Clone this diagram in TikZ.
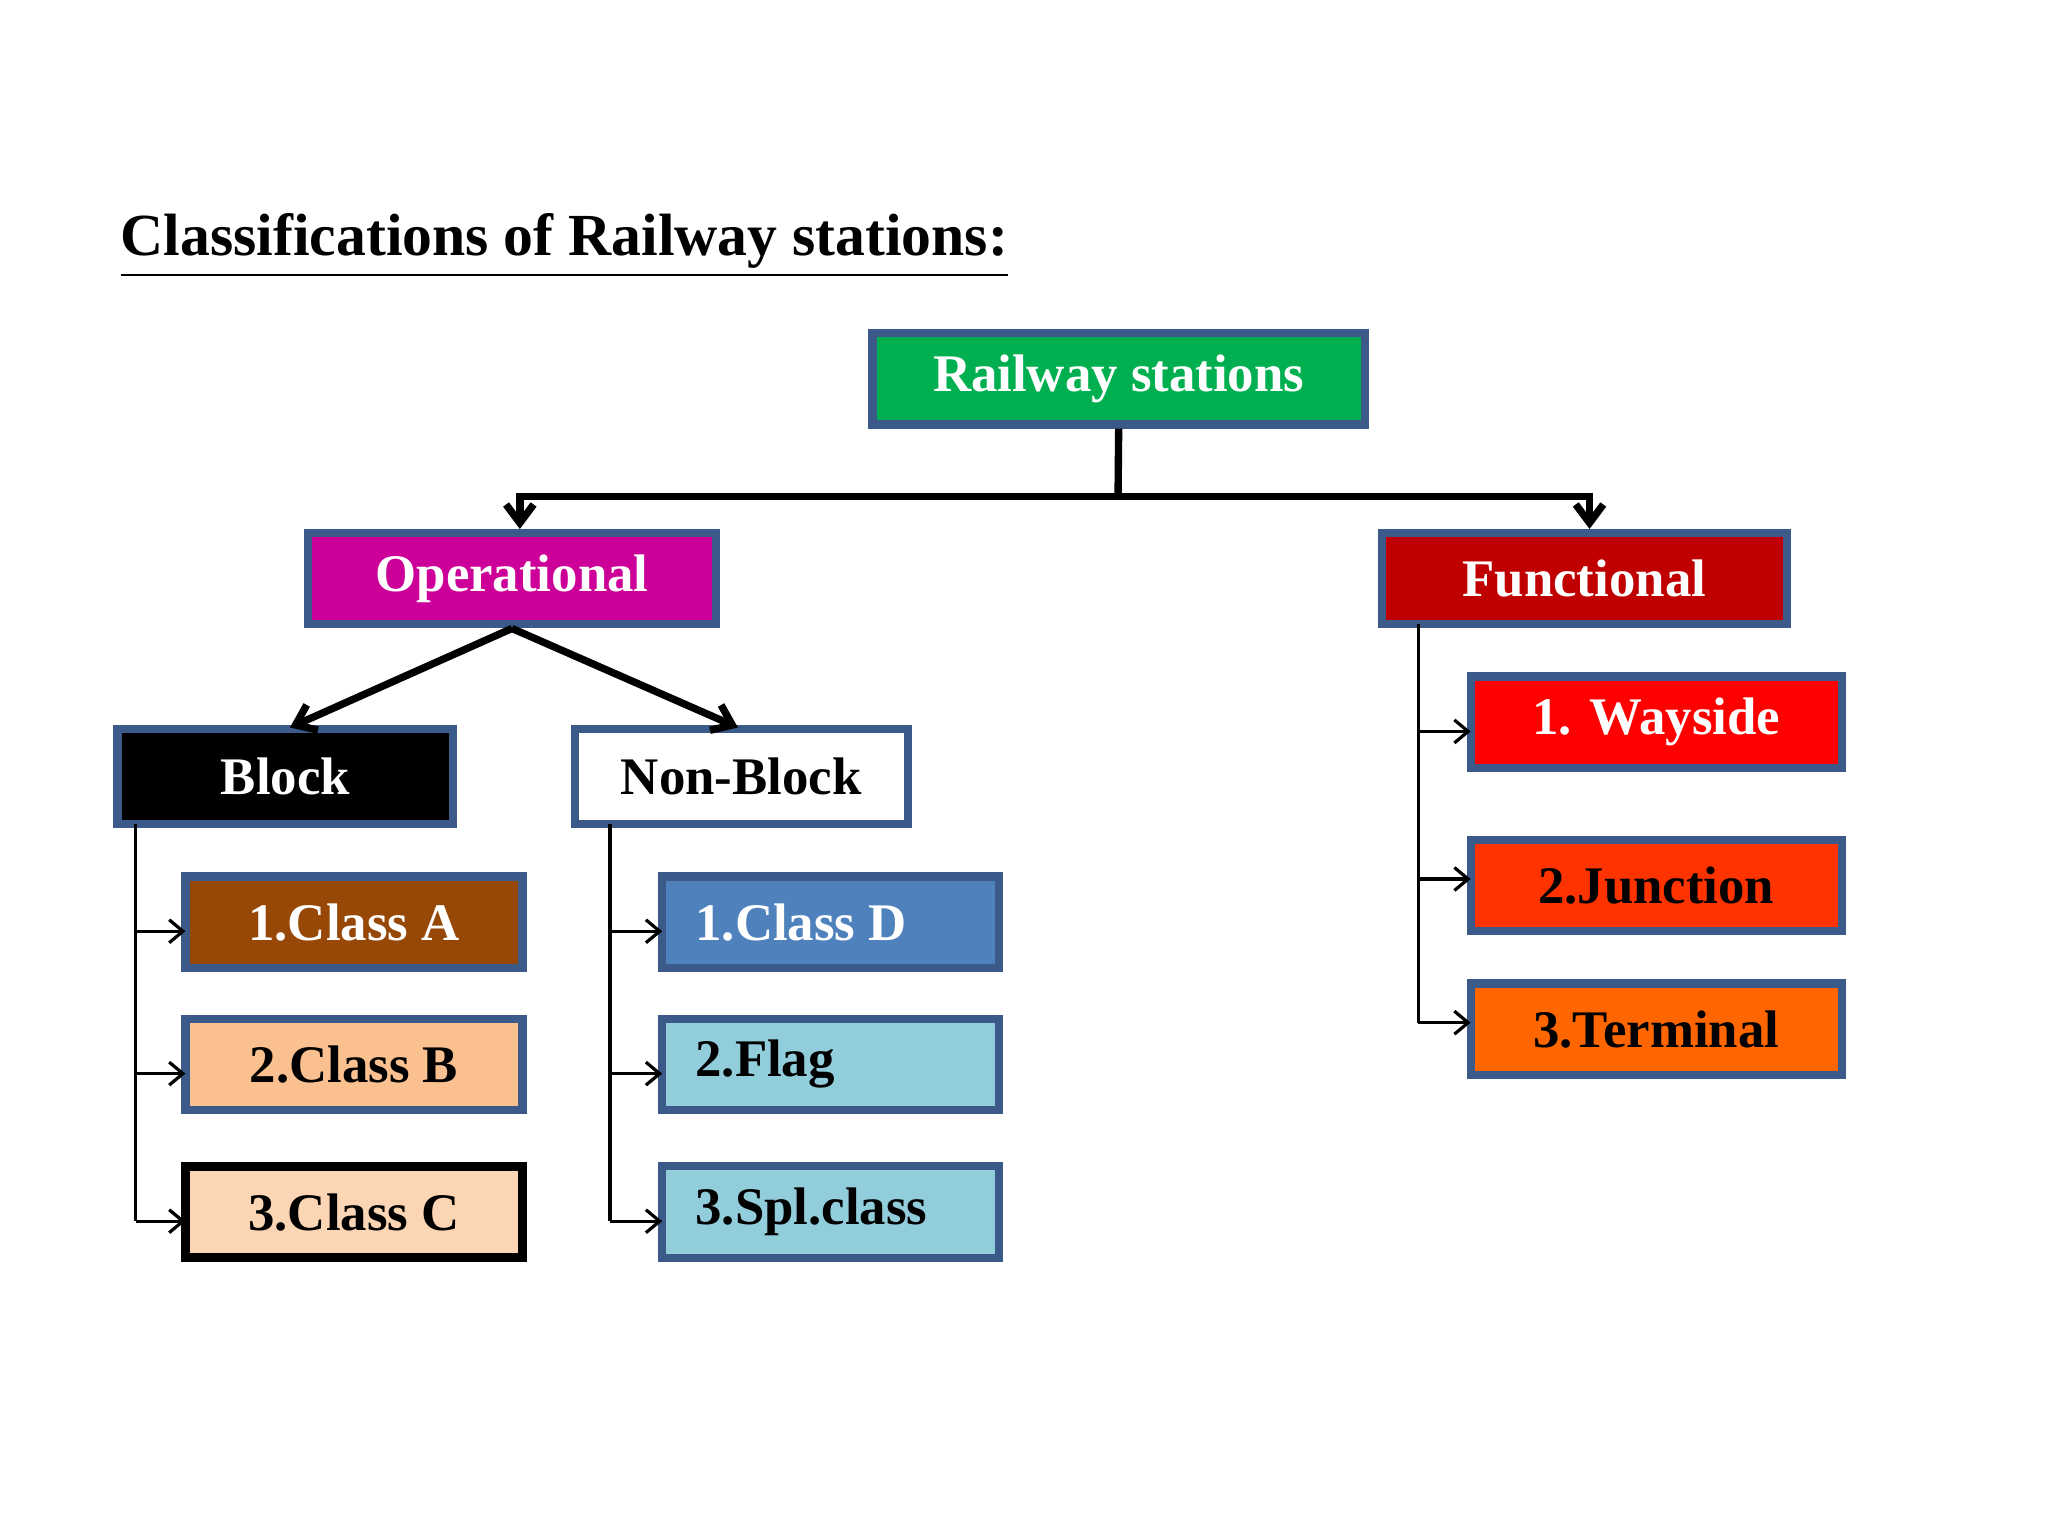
\documentclass[tikz,border=0pt]{standalone}
\usepackage{fontspec}
\setmainfont{Liberation Serif}
\usetikzlibrary{arrows.meta}
\definecolor{bord}{RGB}{59,90,138}
\begin{document}
\begin{tikzpicture}[x=0.01cm,y=-0.01cm,
 box/.style={draw=bord,line width=1.8pt,font=\bfseries\fontsize{11.5}{12}\selectfont,inner sep=0pt},
 arr/.style={-{Straight Barb[length=4pt,width=6pt]},line width=1.6pt},
 tarr/.style={-{Straight Barb[length=3pt,width=5pt]},line width=0.7pt}]
\useasboundingbox (0,0) rectangle (1568,1176);
\node[anchor=base west,font=\bfseries\fontsize{13}{14}\selectfont] (title) at (80,196) {\underline{Classifications of Railway stations:}};
\newcommand\bx[7]{\node[box,fill=#6,text=#7,minimum width={(#3-#2)*0.01cm},minimum height={(#5-#4)*0.01cm}] (#1) at ({(#2+#3)/2},{(#4+#5)/2}) {};}
\bx{rs}{668}{1045}{255}{325}{{rgb,255:red,0;green,176;blue,80}}{white}
\node[font=\bfseries\fontsize{11.5}{12}\selectfont,text=white] at (rs) {Railway stations};
\bx{op}{236}{548}{408}{478}{{rgb,255:red,204;green,0;blue,153}}{white}
\node[font=\bfseries\fontsize{11.5}{12}\selectfont,text=white] at (op) {Operational};
\bx{fu}{1058}{1368}{408}{478}{{rgb,255:red,192;green,0;blue,0}}{white}
\node[font=\bfseries\fontsize{11.5}{12}\selectfont,text=white] at (fu) {Functional};
\bx{bl}{90}{347}{558}{631}{black}{white}
\node[font=\bfseries\fontsize{11.5}{12}\selectfont,text=white] at (bl) {Block};
\bx{nb}{440}{695}{558}{631}{white}{black}
\node[font=\bfseries\fontsize{11.5}{12}\selectfont] at (nb) {Non-Block};
\bx{ca}{142}{400}{671}{741}{{rgb,255:red,151;green,71;blue,6}}{white}
\node[font=\bfseries\fontsize{11.5}{12}\selectfont,text=white] at (ca) {1.Class A};
\bx{cb}{142}{400}{780}{850}{{rgb,255:red,250;green,192;blue,144}}{black}
\node[font=\bfseries\fontsize{11.5}{12}\selectfont] at (cb) {2.Class B};
\node[draw=black,line width=2pt,fill={rgb,255:red,252;green,213;blue,181},minimum width=2.58cm,minimum height=0.70cm,inner sep=0pt,font=\bfseries\fontsize{11.5}{12}\selectfont] (cc) at (271,928) {3.Class C};
\bx{cd}{507}{765}{671}{741}{{rgb,255:red,79;green,129;blue,189}}{white}
\node[font=\bfseries\fontsize{11.5}{12}\selectfont,text=white,anchor=west] at (520,706) {1.Class D};
\bx{fl}{507}{765}{780}{850}{{rgb,255:red,146;green,205;blue,220}}{black}
\node[font=\bfseries\fontsize{11.5}{12}\selectfont,anchor=west] at (520,815) {2.Flag};
\bx{sp}{507}{765}{893}{963}{{rgb,255:red,146;green,205;blue,220}}{black}
\node[font=\bfseries\fontsize{11.5}{12}\selectfont,anchor=west] at (520,928) {3.Spl.class};
\bx{wa}{1126}{1410}{518}{588}{{rgb,255:red,255;green,0;blue,0}}{white}
\node[font=\bfseries\fontsize{11.5}{12}\selectfont,text=white] at (wa) {1. Wayside};
\bx{ju}{1126}{1410}{643}{713}{{rgb,255:red,255;green,51;blue,0}}{black}
\node[font=\bfseries\fontsize{11.5}{12}\selectfont] at (ju) {2.Junction};
\bx{te}{1126}{1410}{753}{823}{{rgb,255:red,255;green,102;blue,0}}{black}
\node[font=\bfseries\fontsize{11.5}{12}\selectfont] at (te) {3.Terminal};
% main connectors
\draw[line width=1.6pt] (rs.south) -- (856,380) coordinate (j);
\draw[arr] (j) -| (398,405);
\draw[arr] (j) -| (1217,405);
\draw[arr] (op.south) -- (222,557);
\draw[arr] (op.south) -- (565,557);
% trees
\draw[line width=0.7pt] (104,631) -- (104,935);
\foreach \n/\y in {ca/713,cb/822,cc/935} \draw[tarr] (104,\y) -- (142,\y);
\draw[line width=0.7pt] (467,631) -- (467,935);
\foreach \n/\y in {cd/713,fl/822,sp/935} \draw[tarr] (467,\y) -- (507,\y);
\draw[line width=0.7pt] (1086,478) -- (1086,783);
\foreach \n/\y in {wa/560,ju/673,te/783} \draw[tarr] (1086,\y) -- (1126,\y);
\end{tikzpicture}
\end{document}
